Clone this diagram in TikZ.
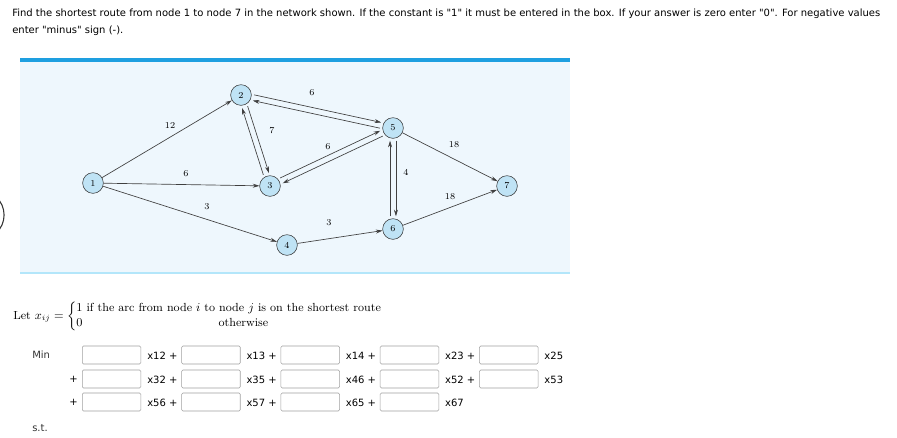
\documentclass[tikz,border=0pt]{standalone}
\usepackage{fontspec}
\usepackage{amsmath}
\newfontfamily\uisans{DejaVu Sans}
\usetikzlibrary{calc,arrows.meta}
\definecolor{panel}{HTML}{EEF7FD}
\definecolor{topbar}{HTML}{1E9FE0}
\definecolor{nodefill}{HTML}{BFE3F5}
\definecolor{boxline}{HTML}{A0A0A0}
\begin{document}
\begin{tikzpicture}[x=0.75pt,y=-0.75pt,
  nd/.style={circle,draw=black!80,fill=nodefill,minimum size=15.5pt,inner sep=0pt,font=\fontsize{6.8}{7}\selectfont},
  arc/.style={-{Stealth[length=5pt,width=3pt]},draw=black!75,line width=0.5pt},
  wt/.style={font=\fontsize{6.8}{7}\selectfont},
  ui/.style={font=\uisans\fontsize{7.5}{9}\selectfont,inner sep=0pt,anchor=west},
  inbox/.style={draw=boxline,rounded corners=1pt,minimum width=44pt,minimum height=13.5pt,inner sep=0pt,anchor=west}]
\useasboundingbox (0,0) rectangle (897,437);
% header text
\node[ui] (t1) at (12,14) {Find the shortest route from node 1 to node 7 in the network shown. If the constant is "1" it must be entered in the box. If your answer is zero enter "0". For negative values};
\node[ui] (t2) at (12,31) {enter "minus" sign (-).};
% panel
\fill[panel] (20,58) rectangle (570,273);
\fill[topbar] (20,58) rectangle (570,62);
\draw[cyan!30,line width=1pt] (20,273) -- (570,273);
\coordinate (pa) at (-4,197);
\coordinate (pb) at (-4,233);
\draw[black!80,line width=0.8pt] (pa) to[bend left=50] (pb);
% nodes
\node[nd] (n1) at (93,183) {1};
\node[nd] (n2) at (241,95) {2};
\node[nd] (n3) at (270,186) {3};
\node[nd] (n4) at (287,245) {4};
\node[nd] (n5) at (393,128) {5};
\node[nd] (n6) at (393,229) {6};
\node[nd] (n7) at (507,186) {7};
% single arcs
\draw[arc] (n1) -- (n2);
\draw[arc] (n1) -- (n3);
\draw[arc] (n1) -- (n4);
\draw[arc] (n4) -- (n6);
\draw[arc] (n5) -- (n7);
\draw[arc] (n6) -- (n7);
% paired arcs
\foreach \a/\b in {n2/n5,n2/n3,n3/n5,n5/n6}{
  \draw[arc,shorten <=9.5pt,shorten >=9.5pt] ($(\a)!2.2pt!90:(\b)$) -- ($(\b)!2.2pt!-90:(\a)$);
  \draw[arc,shorten <=9.5pt,shorten >=9.5pt] ($(\b)!2.2pt!90:(\a)$) -- ($(\a)!2.2pt!-90:(\b)$);
}
% weights
\node[wt] (w12) at (170,125) {12};
\node[wt] (w13) at (186,174) {6};
\node[wt] (w14) at (207,207) {3};
\node[wt] (w25) at (312,93) {6};
\node[wt] (w23) at (272,131) {7};
\node[wt] (w35) at (328,147) {6};
\node[wt] (w56) at (406,172) {4};
\node[wt] (w57) at (454,145) {18};
\node[wt] (w67) at (450,197) {18};
\node[wt] (w46) at (329,223) {3};
% definition
\node[anchor=west,inner sep=0pt,font=\fontsize{8.8}{10}\selectfont] (def) at (13,316)
 {Let $x_{ij}=\left\{\begin{array}{@{}l@{}}1\text{ if the arc from node $i$ to node $j$ is on the shortest route}\\[1pt]
 0\hspace{11.6em}\text{otherwise}\end{array}\right.$};
% form
\node[ui,text=black!80] (min) at (32,355) {Min};
\node[ui,text=black!80] (st) at (32,428) {s.t.};
\node[ui] (p2) at (69,379) {+};
\node[ui] (p3) at (69,402) {+};
\foreach \r/\y/\labs in {1/355/{x12 +,x13 +,x14 +,x23 +,x25},2/379/{x32 +,x35 +,x46 +,x52 +,x53},3/402/{x56 +,x57 +,x65 +,x67}}{
  \foreach \l [count=\i] in \labs {
    \pgfmathsetmacro\bx{82+99.3*(\i-1)}
    \node[inbox] (b\r\i) at (\bx,\y) {};
    \node[ui] (l\r\i) at (\bx+65,\y+1) {\l};
  }
}
\end{tikzpicture}
\end{document}
